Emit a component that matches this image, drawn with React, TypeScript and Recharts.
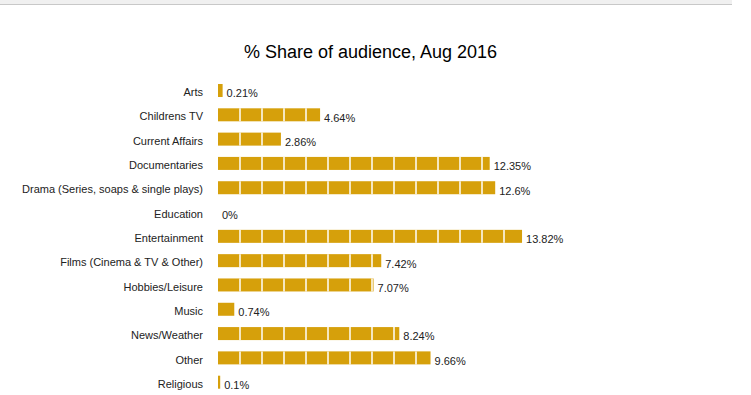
import React from "react";
import { BarChart, Bar, XAxis, YAxis, LabelList } from "recharts";

const categories = [
  "Arts",
  "Childrens TV",
  "Current Affairs",
  "Documentaries",
  "Drama (Series, soaps & single plays)",
  "Education",
  "Entertainment",
  "Films (Cinema & TV & Other)",
  "Hobbies/Leisure",
  "Music",
  "News/Weather",
  "Other",
  "Religious",
];

const shares = [0.21, 4.64, 2.86, 12.35, 12.6, 0, 13.82, 7.42, 7.07, 0.74, 8.24, 9.66, 0.1];

const title = "% Share of audience, Aug 2016";

const data = categories.map((name, i) => ({ name, value: shares[i] }));

const FONT = "'Liberation Sans', Arial, sans-serif";
const BAR_COLOR = "#D6A00B";

const SegmentedBar = (props: any) => {
  const { x, y, width, height, value } = props;
  if (!width || width <= 0) return null;
  const v = Number(value);
  const perUnit = v > 0 ? width / v : 0;
  const lines = [];
  for (let k = 1; k < v; k++) {
    const lx = x + k * perUnit;
    lines.push(
      <line key={k} x1={lx} x2={lx} y1={y} y2={y + height} stroke="#ffffff" strokeWidth={1.5} />
    );
  }
  return (
    <g>
      <rect x={x} y={y} width={width} height={height} fill={BAR_COLOR} />
      {lines}
    </g>
  );
};

const CategoryTick = (props: any) => {
  const { x, y, payload } = props;
  return (
    <text
      x={x}
      y={y + 6}
      textAnchor="end"
      fontSize={11}
      fontFamily={FONT}
      fill="#222222"
    >
      {payload.value}
    </text>
  );
};

export default function App() {
  return (
    <div style={{ position: "absolute", left: 0, top: 0, width: 751, height: 395, background: "#ffffff", overflow: "hidden" }}>
      <div style={{ position: "absolute", left: 0, top: 0, width: 732, height: 4, background: "#f0f0f0" }} />
      <div style={{ position: "absolute", left: 0, top: 4, width: 732, height: 1, background: "#c8c8c8" }} />
      <div
        style={{
          position: "absolute",
          left: 0,
          top: 43,
          width: 741,
          textAlign: "center",
          fontFamily: FONT,
          fontSize: 18,
          lineHeight: 1,
          color: "#000000",
        }}
      >
        {title}
      </div>
      <div style={{ position: "absolute", left: 0, top: 0 }}>
        <BarChart
          width={751}
          height={395}
          data={data}
          layout="vertical"
          margin={{ top: 78, right: 93, bottom: 1, left: 0 }}
        >
          <XAxis type="number" domain={[0, 20]} hide />
          <YAxis
            type="category"
            dataKey="name"
            width={218}
            axisLine={false}
            tickLine={false}
            tickSize={0}
            tickMargin={15}
            interval={0}
            tick={<CategoryTick />}
          />
          <Bar dataKey="value" barSize={13} fill={BAR_COLOR} shape={<SegmentedBar />} isAnimationActive={false}>
            <LabelList
              dataKey="value"
              position="right"
              offset={4}
              formatter={(v: any) => `${v}%`}
              style={{ fontSize: 11, fontFamily: FONT, fill: "#222222" }}
              dy={3}
            />
          </Bar>
        </BarChart>
      </div>
    </div>
  );
}
